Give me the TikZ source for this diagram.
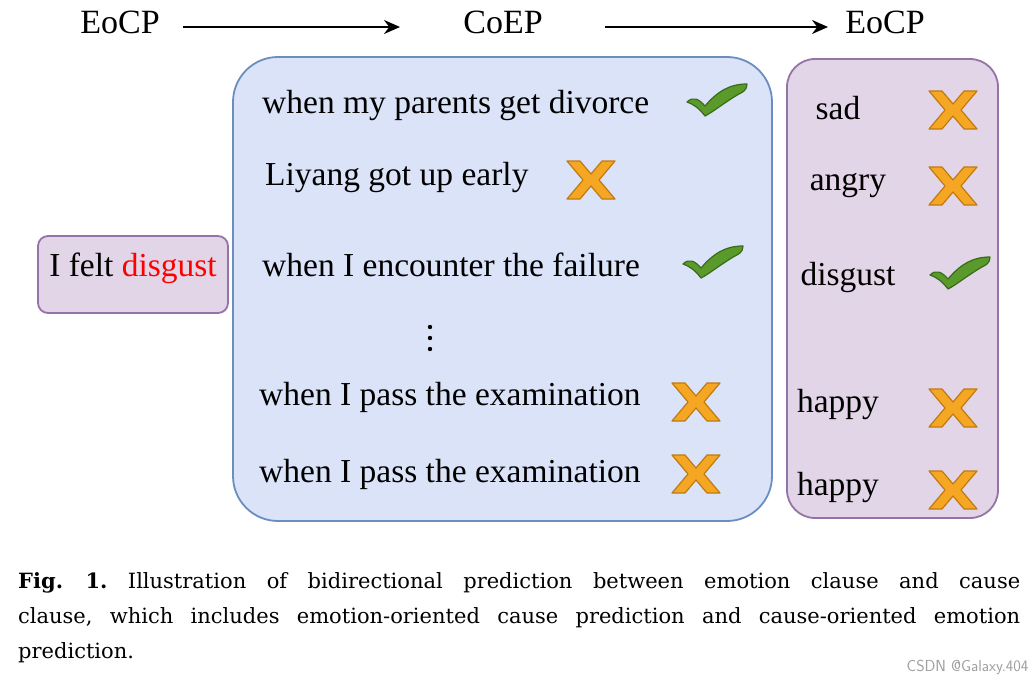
\documentclass[tikz,border=0pt]{standalone}
\usepackage{fontspec}
\setmainfont{Liberation Serif}
\newfontfamily\capfont{DejaVu Serif}
\usetikzlibrary{arrows.meta}
\definecolor{bfill}{HTML}{DAE3F8}
\definecolor{bline}{HTML}{6C8EBF}
\definecolor{pfill}{HTML}{E1D5E7}
\definecolor{pline}{HTML}{9673A6}
\definecolor{cgreen}{HTML}{5A9A2A}
\definecolor{cgreend}{HTML}{3A6A1A}
\definecolor{xor}{HTML}{F5A623}
\definecolor{xord}{HTML}{C07A10}
\begin{document}
\begin{tikzpicture}[x=1pt,y=-1pt,
  big/.style={font=\fontsize{33.5}{35}\selectfont,inner sep=0pt},
  lbl/.style={big,anchor=west},
  xmark/.pic={\filldraw[fill=xor,draw=xord,line width=1.2pt,line join=round]
     (-24,-19)--(-11,-19)--(0,-6)--(11,-19)--(24,-19)--(8,0)--(24,19)--(11,19)--(0,6)--(-11,19)--(-24,19)--(-8,0)--cycle;},
  cmark/.pic={\filldraw[fill=cgreen,draw=cgreend,line width=1.2pt,line join=round]
     (-30,2) .. controls (-24,-4) and (-18,-1) .. (-12,6)
     .. controls (0,-8) and (12,-16) .. (30,-16)
     .. controls (30,-10) and (26,-8) .. (22,-6)
     .. controls (8,2) and (-4,12) .. (-12,16)
     .. controls (-18,8) and (-24,4) .. (-30,2) -- cycle;}]
\useasboundingbox (0,0) rectangle (1036,685);
\node[big,font=\fontsize{34}{36}\selectfont] (t1) at (120,22) {EoCP};
\node[big,font=\fontsize{34}{36}\selectfont] (t2) at (503,22) {CoEP};
\node[big,font=\fontsize{34}{36}\selectfont] (t3) at (885,22) {EoCP};
\draw[-{Stealth[length=16pt,width=14pt]},line width=2pt] (183,27) -- (400,27);
\draw[-{Stealth[length=16pt,width=14pt]},line width=2pt] (605,27) -- (828,27);
\filldraw[fill=bfill,draw=bline,line width=1.8pt,rounded corners=45] (233,57) rectangle (772,521);
\filldraw[fill=pfill,draw=pline,line width=1.8pt,rounded corners=28] (787,59) rectangle (998,518);
\filldraw[fill=pfill,draw=pline,line width=1.8pt,rounded corners=10] (38,236) rectangle (228,313);
\node[big] (in) at (133,268) {I felt \textcolor{red}{disgust}};
\node[lbl] (c1) at (262,105) {when my parents get divorce};
\node[lbl] (c2) at (265,177) {Liyang got up early};
\node[lbl] (c3) at (262,265) {when I encounter the failure};
\foreach \yy in {327,338,349} \fill (430,\yy) circle (2.2);
\node[lbl] (c4) at (259,397) {when I pass the examination};
\node[lbl] (c5) at (259,474) {when I pass the examination};
\pic at (717,100) {cmark};
\pic at (591,180) {xmark};
\pic at (713,262) {cmark};
\pic at (696,402) {xmark};
\pic at (696,474) {xmark};
\node[big] (e1) at (838,108) {sad};
\node[big] (e2) at (848,186) {angry};
\node[big] (e3) at (848,277) {disgust};
\node[big] (e4) at (838,404) {happy};
\node[big] (e5) at (838,487) {happy};
\pic at (953,110) {xmark};
\pic at (953,186) {xmark};
\pic at (960,273) {cmark};
\pic at (953,408) {xmark};
\pic at (953,490) {xmark};
\node[anchor=north west,text width=1002pt,align=justify,inner sep=0pt,font=\capfont\fontsize{21}{35}\selectfont\frenchspacing] (cap) at (18,572)
 {\textbf{Fig.~1.} Illustration of bidirectional prediction between emotion clause and cause\linebreak clause, which includes emotion-oriented cause prediction and cause-oriented emotion\linebreak prediction.};
\node[anchor=east,text=gray!75,font=\fontsize{16}{17}\sffamily] (wm) at (1032,667) {CSDN @Galaxy.404};
\end{tikzpicture}
\end{document}
